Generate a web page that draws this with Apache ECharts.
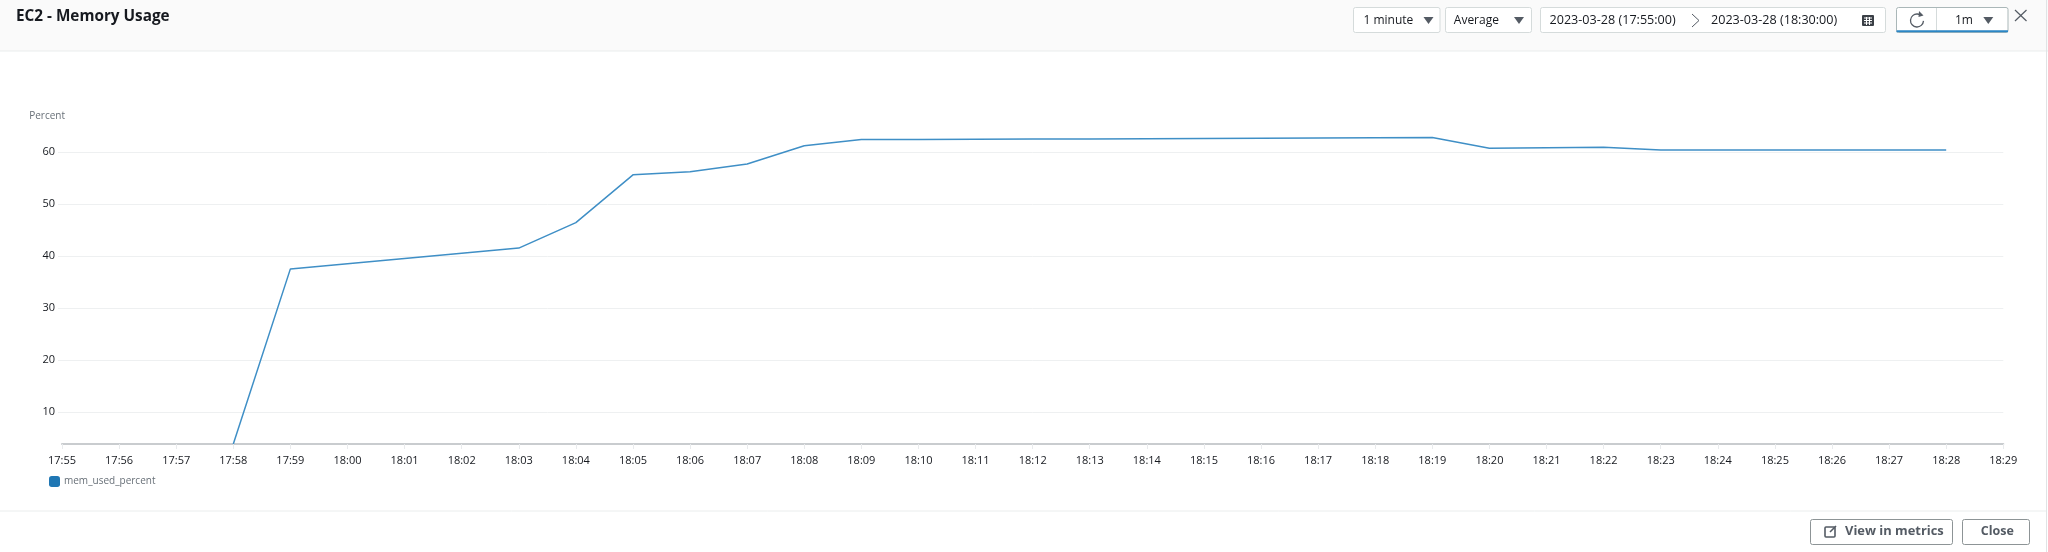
<!DOCTYPE html>
<html>
<head>
<meta charset="utf-8">
<style>html,body{margin:0;padding:0;background:#fff}#c{width:2048px;height:552px}</style>
<script src="https://cdn.jsdelivr.net/npm/echarts@6/dist/echarts.min.js"></script>
</head>
<body>
<div id="c"></div>
<script>
const titleText = 'EC2 - Memory Usage';
const yName = 'Percent';
const seriesName = 'mem_used_percent';
const categories = ['17:55','17:56','17:57','17:58','17:59','18:00','18:01','18:02','18:03','18:04','18:05','18:06','18:07','18:08','18:09','18:10','18:11','18:12','18:13','18:14','18:15','18:16','18:17','18:18','18:19','18:20','18:21','18:22','18:23','18:24','18:25','18:26','18:27','18:28','18:29'];
const memUsed = [null,null,null,3.8,37.5,38.5,39.5,40.5,41.5,46.4,55.6,56.2,57.7,61.2,62.4,62.4,62.45,62.5,62.5,62.55,62.6,62.65,62.7,62.75,62.8,60.7,60.8,60.9,60.4,60.4,60.4,60.4,60.4,60.4,null];
const yTicks = [10,20,30,40,50,60];
const FONT = '"Open Sans"';
const GRAY = '#545b64';
const BORDER = '#d5dbdb';

function box(x0,y0,x1,y1,stroke,r){return {type:'rect',shape:{x:x0,y:y0,width:x1-x0,height:y1-y0,r:r||2},style:{fill:'#fff',stroke:stroke||BORDER,lineWidth:1}};}
function label(t,x,y,size,weight,color,align){return {type:'text',x:x,y:y,style:{text:t,font:(weight||'normal')+' '+size+'px '+FONT,fill:color||'#16191f',textAlign:align||'left',textVerticalAlign:'middle'}};}
function tri(cx,cy){return {type:'polygon',shape:{points:[[cx-5,cy-3.5],[cx+5,cy-3.5],[cx,cy+3.5]]},style:{fill:GRAY}};}
function seg(x0,y0,x1,y1,color,w){return {type:'line',shape:{x1:x0,y1:y0,x2:x1,y2:y1},style:{stroke:color,lineWidth:w||1}};}

const ui = [
  {type:'rect',z:-10,shape:{x:0,y:0,width:2048,height:51},style:{fill:'#fafafa'}},
  seg(0,51,2048,51,'#eaeded'),
  seg(0,511,2046,511,'#eaeded'),
  seg(2046.5,0,2046.5,552,'#e0e3e5'),
  box(1353.5,7.5,1440,32.5),
  label('1 minute',1363.5,20.5,12),
  tri(1428.5,20.5),
  box(1445.5,7.5,1531.5,32.5),
  label('Average',1453.8,20.5,12),
  tri(1519,20.5),
  box(1540.5,7.5,1885.5,32.5),
  label('2023-03-28 (17:55:00)',1549.5,20.5,12.6),
  {type:'polyline',shape:{points:[[1692,14],[1699,20.5],[1692,27]]},style:{fill:'none',stroke:GRAY,lineWidth:1}},
  label('2023-03-28 (18:30:00)',1711,20.5,12.6),
  {type:'rect',shape:{x:1862,y:15,width:12,height:11,r:1},style:{fill:'#3a3f46'}},
  seg(1864,18,1872,18,'#fff'),seg(1864,20.5,1872,20.5,'#fff'),seg(1864,23,1872,23,'#fff'),
  seg(1866.5,17,1866.5,25,'#fff'),seg(1869.5,17,1869.5,25,'#fff'),
  box(1896.5,7.5,2008,32.5,'#aab7b8'),
  seg(1936.5,8,1936.5,32,BORDER),
  seg(1896.5,31.3,2008,31.3,'#2b86c5',2),
  {type:'arc',shape:{cx:1917,cy:20.5,r:6.5,startAngle:Math.PI*0.02,endAngle:Math.PI*1.62,clockwise:true},style:{fill:'none',stroke:GRAY,lineWidth:1.3}},
  {type:'polygon',shape:{points:[[1919,11],[1923.5,15.5],[1918.5,17]]},style:{fill:GRAY}},
  label('1m',1955,20.5,12),
  tri(1988.3,20.5),
  seg(2015,10,2026.5,21,GRAY,1.2),seg(2026.5,10,2015,21,GRAY,1.2),
  box(1810.5,519.5,1952.5,544.5,'#8d9496'),
  {type:'rect',shape:{x:1825,y:527,width:10,height:10,r:1},style:{fill:'none',stroke:GRAY,lineWidth:1.6}},
  seg(1830,532,1836,526,GRAY,1.6),
  label('View in metrics',1845,531.7,12.9,'bold',GRAY),
  box(1962.5,519.5,2029.5,544.5,'#8d9496'),
  label('Close',1980.7,531.7,12.5,'bold',GRAY)
];

const chart = echarts.init(document.getElementById('c'),null,{renderer:'canvas'});
chart.setOption({
  animation:false,
  backgroundColor:'#fff',
  title:{text:titleText,left:16,top:9,padding:0,textStyle:{fontFamily:FONT,fontSize:15.3,fontWeight:'bold',color:'#16191f'}},
  grid:{left:62,right:44.7,top:126,bottom:108,containLabel:false},
  legend:{left:49,top:476,icon:'roundRect',itemWidth:11,itemHeight:11,itemGap:4,padding:0,
    data:[{name:seriesName,itemStyle:{color:'#1f77b4'}}],
    textStyle:{fontFamily:FONT,fontSize:10,color:'#687078',padding:[0,0,0,-1]}},
  xAxis:{type:'category',boundaryGap:false,data:categories,
    axisLine:{lineStyle:{color:'#c9cccf',width:2}},
    axisTick:{show:true,length:5,lineStyle:{color:'#e9ebed'}},
    axisLabel:{interval:0,margin:11,fontFamily:FONT,fontSize:11,color:'#16191f',hideOverlap:false},
    splitLine:{show:false}},
  yAxis:{type:'value',min:3.8,max:65,
    name:yName,nameLocation:'end',nameGap:5,
    nameTextStyle:{fontFamily:FONT,fontSize:10,color:'#687078',align:'right',padding:[0,-3,0,0]},
    axisLine:{show:false},
    axisTick:{show:true,length:4,lineStyle:{color:'#eef0f1'},customValues:yTicks},
    axisLabel:{fontFamily:FONT,fontSize:11,color:'#16191f',margin:7,customValues:yTicks,showMinLabel:true,showMaxLabel:true},
    splitLine:{show:true,lineStyle:{color:'#eef0f1',width:1}}},
  series:[{name:seriesName,type:'line',data:memUsed,symbol:'none',showSymbol:false,connectNulls:false,
    lineStyle:{color:'#3f8fc6',width:1.5},itemStyle:{color:'#1f77b4'}}],
  graphic:{elements:ui}
});
</script>
</body>
</html>
